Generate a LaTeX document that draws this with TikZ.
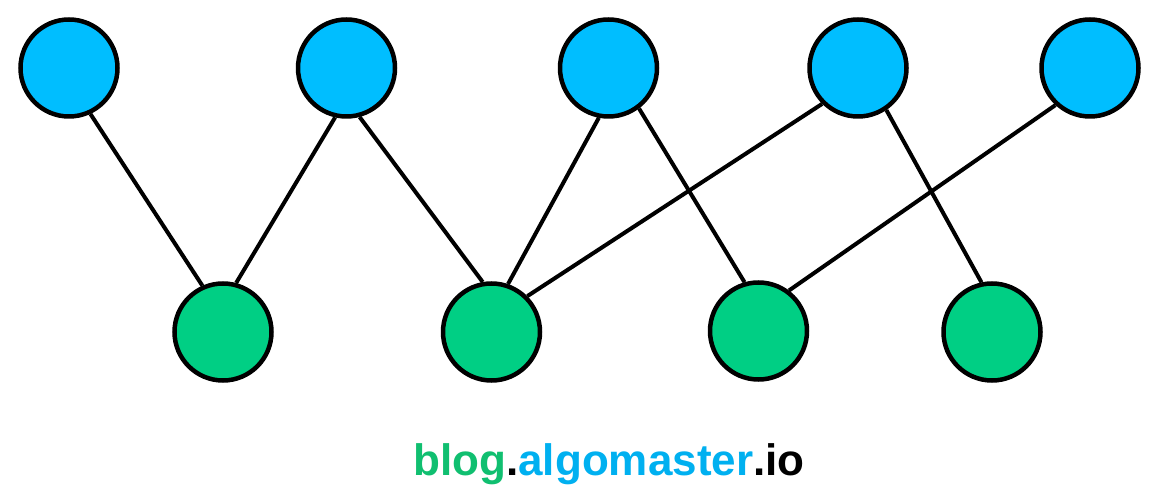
\documentclass[tikz,border=0pt]{standalone}
\usepackage{fontspec}
\setmainfont{Liberation Sans}
\definecolor{topblue}{RGB}{0,190,255}
\definecolor{botgreen}{RGB}{0,207,132}
\definecolor{txtgreen}{RGB}{16,191,112}
\definecolor{txtblue}{RGB}{0,176,240}
\begin{document}
\begin{tikzpicture}[x=1pt,y=-1pt,
  topnode/.style={circle,draw=black,line width=4.5pt,fill=topblue,minimum size=97pt,inner sep=0pt},
  botnode/.style={circle,draw=black,line width=4.5pt,fill=botgreen,minimum size=97pt,inner sep=0pt},
  edge/.style={draw=black,line width=4pt}]
\useasboundingbox[fill=white] (0,0) rectangle (1162,502);
\node[topnode] (t1) at (69,68) {};
\node[topnode] (t2) at (346.5,68) {};
\node[topnode] (t3) at (608.5,68) {};
\node[topnode] (t4) at (858,68) {};
\node[topnode] (t5) at (1090,68) {};
\node[botnode] (b1) at (223,332) {};
\node[botnode] (b2) at (491.5,332) {};
\node[botnode] (b3) at (758.5,331) {};
\node[botnode] (b4) at (992,332) {};
\path[edge] (t1.-65) -- (b1.114.5);
\path[edge] (t2.-103) -- (b1.75);
\path[edge] (t2.-75) -- (b2.100);
\path[edge] (t3.-101.5) -- (b2.71);
\path[edge] (t4.-135) -- (b2.45.5);
\path[edge] (t3.-53) -- (b3.106.5);
\path[edge] (t5.-133.5) -- (b3.53);
\path[edge] (t4.-56) -- (b4.102);
\node[anchor=base,inner sep=0pt,font=\fontsize{44}{48}\selectfont\bfseries] (logo) at (609,475)
  {\textcolor{txtgreen}{blog}.\textcolor{txtblue}{algomaster}.io};
\end{tikzpicture}
\end{document}
